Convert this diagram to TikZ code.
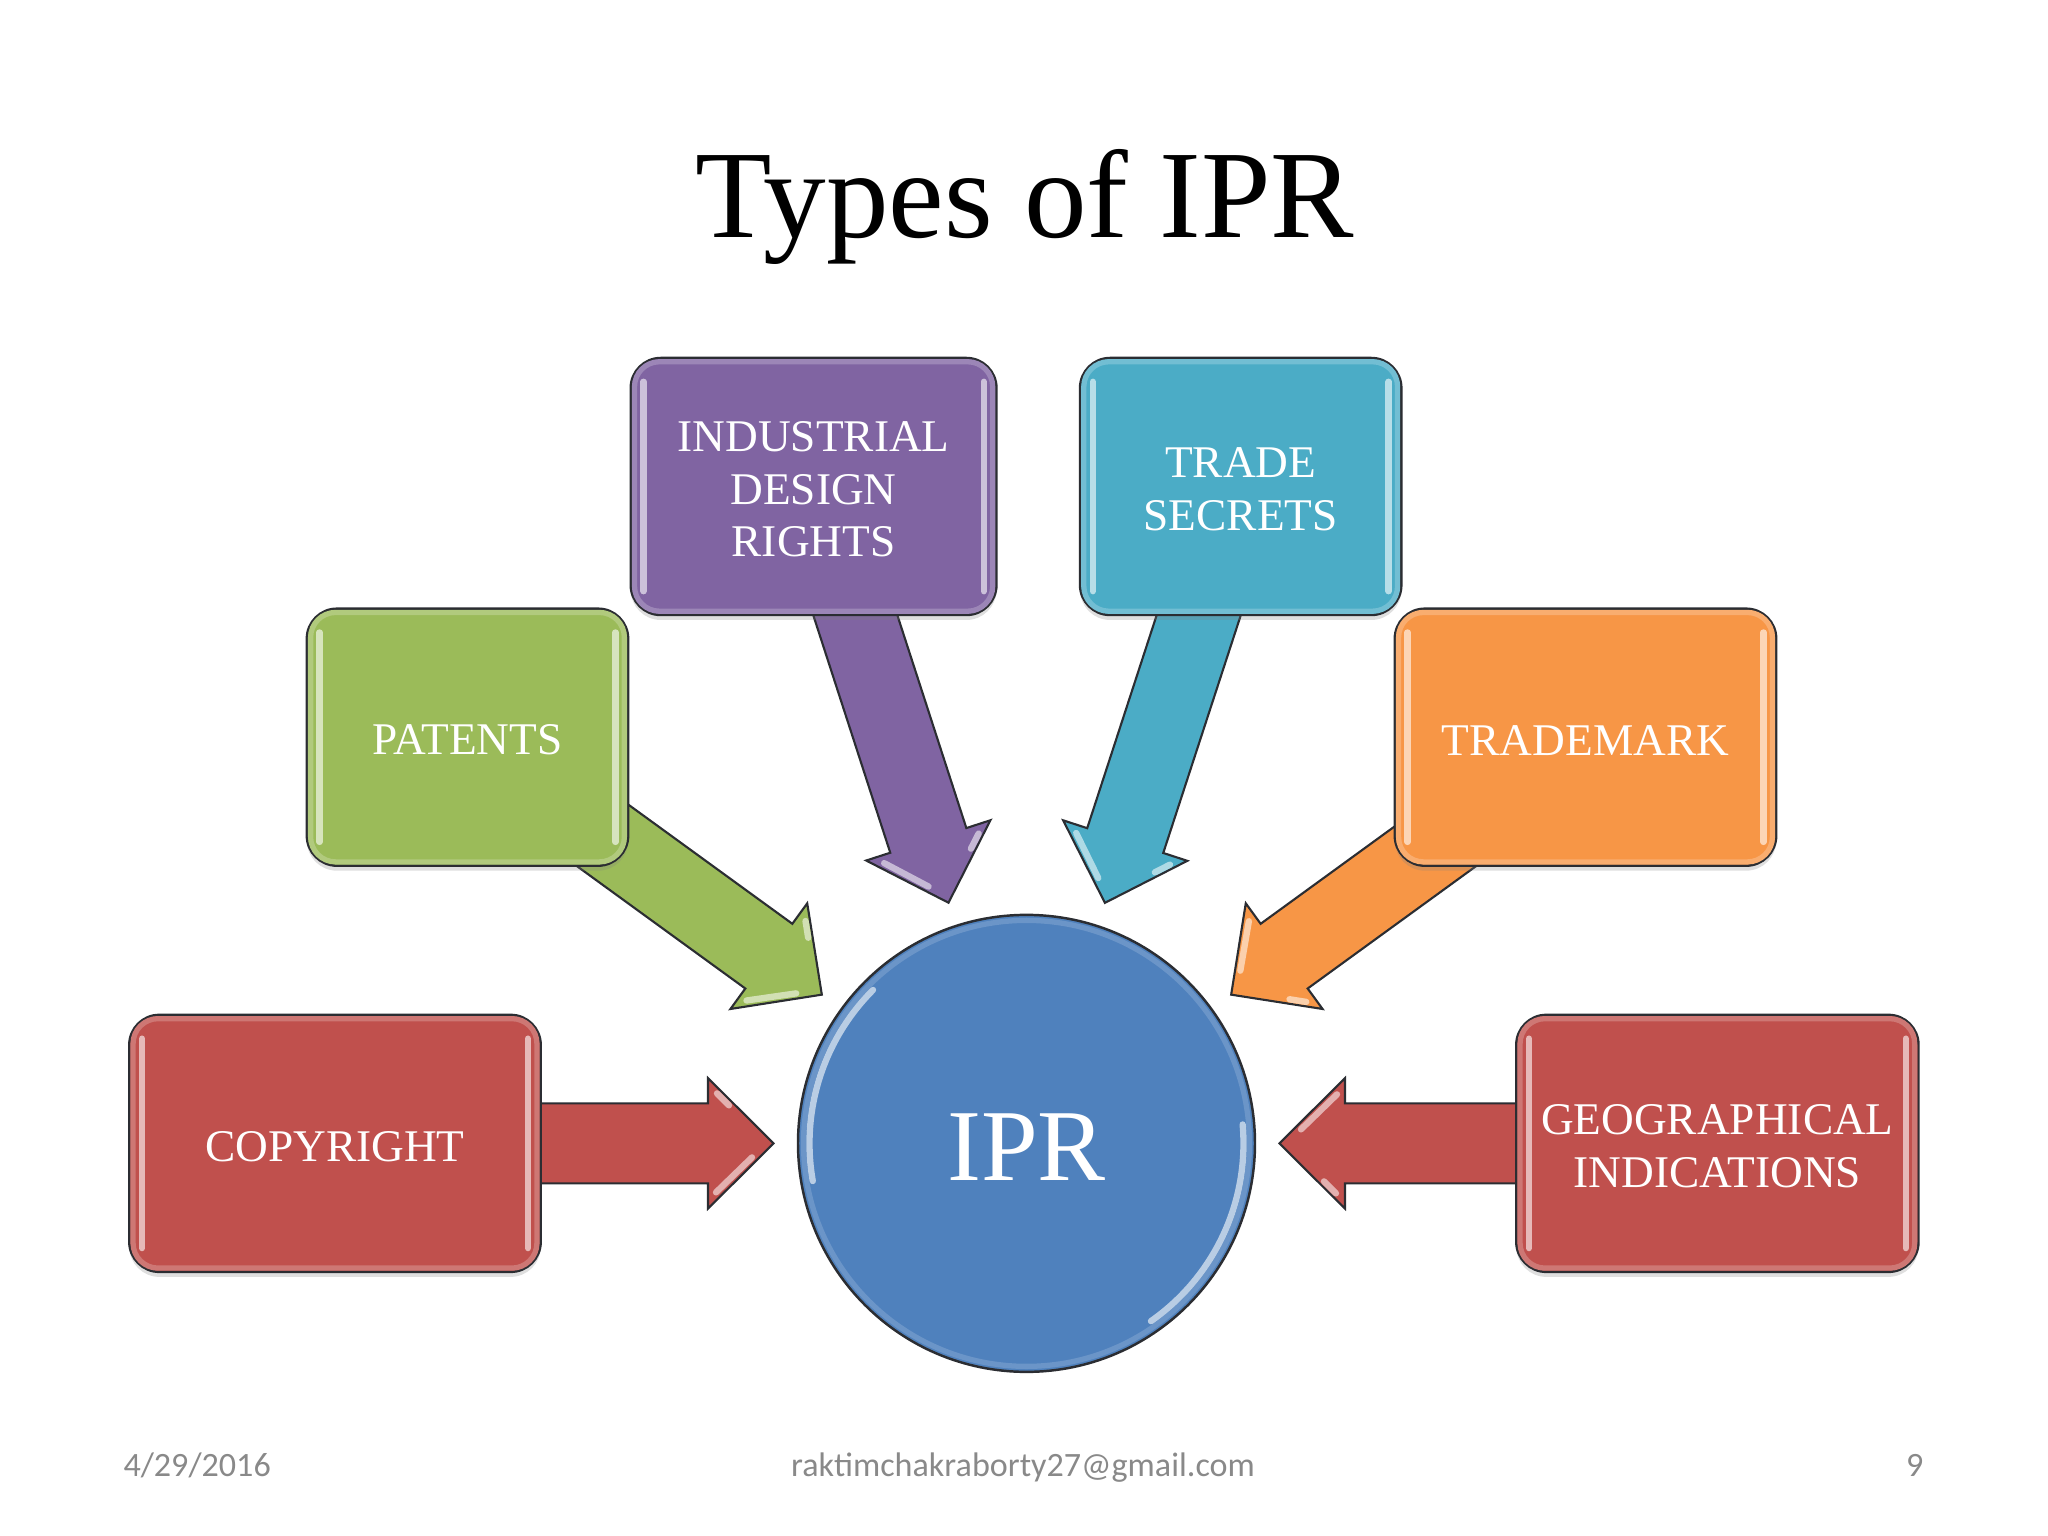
\documentclass[tikz,border=0pt]{standalone}
\usepackage{fontspec}
\setmainfont{Liberation Serif}
\newfontfamily\footfont{Carlito}
\usetikzlibrary{calc,backgrounds,shadows}

\definecolor{iprred}{HTML}{C0504D}
\definecolor{iprgreen}{HTML}{9BBB59}
\definecolor{iprpurple}{HTML}{8064A2}
\definecolor{iprteal}{HTML}{4BACC6}
\definecolor{iprorange}{HTML}{F79646}
\definecolor{iprblue}{HTML}{4F81BD}
\definecolor{iprfoot}{HTML}{898989}
\definecolor{iproutline}{HTML}{2B2D32}

\tikzset{
	iprbox/.style={draw=iproutline, line width=0.7pt, rounded corners=0.3cm, text=white, align=center, inner sep=0pt, minimum height=2.57cm, font=\fontsize{12.9}{15}\selectfont, execute at begin node={\rule{0pt}{#1}}, drop shadow={shadow xshift=0cm, shadow yshift=-0.05cm, opacity=0.25}},
	iprbox/.default=10.2pt,
	iprhub/.style={circle, draw=iproutline, line width=0.7pt, text=white, inner sep=0pt, minimum size=4.57cm, text height=21.4pt, text depth=0pt, font=\fontsize{29}{33}\selectfont},
	arrowedge/.style={draw=iproutline, line width=0.6pt, line join=miter},
	shine/.style={line width=1.8pt, line cap=round},
	footer/.style={text=iprfoot, font=\footfont\fontsize{9.7}{11}\selectfont, inner sep=0pt}
}

% block arrow from a box towards the hub
\newcommand{\blockarrow}[2]{
	\coordinate (#1tip) at ($(ipr)!2.53cm!(#1)$);
	\coordinate (#1neck) at ($(ipr)!3.185cm!(#1)$);
	\coordinate (#1shinea) at ($(ipr)!3.105cm!(#1)$);
	\coordinate (#1shineb) at ($(ipr)!2.745cm!(#1)$);
	\coordinate (#1shinec) at ($(ipr)!3.095cm!(#1)$);
	\coordinate (#1shined) at ($(ipr)!2.975cm!(#1)$);
	\begin{scope}[on background layer]
		\draw[arrowedge, fill=#2] ($(#1)!0.4cm!90:(#1tip)$) -- ($(#1neck)!0.4cm!90:(#1tip)$) -- ($(#1neck)!0.653cm!90:(#1tip)$) -- (#1tip) -- ($(#1neck)!0.653cm!-90:(#1tip)$) -- ($(#1neck)!0.4cm!-90:(#1tip)$) -- ($(#1)!0.4cm!-90:(#1tip)$) -- cycle;
		\draw[shine, white!55!#2] ($(#1shinea)!0.49cm!-90:(#1tip)$) -- ($(#1shineb)!0.14cm!-90:(#1tip)$);
		\draw[shine, white!55!#2] ($(#1shinec)!0.5cm!90:(#1tip)$) -- ($(#1shined)!0.38cm!90:(#1tip)$);
	\end{scope}
}

% bevel lines inside a box
\newcommand{\boxshine}[2]{
	\draw[line width=1.5pt, rounded corners=0.25cm, white!22!#2] ($(#1.north west)+(0.05,-0.05)$) rectangle ($(#1.south east)+(-0.05,0.05)$);
	\draw[shine, white!60!#2] ($(#1.north west)+(0.14,-0.25)$) -- ($(#1.south west)+(0.14,0.25)$);
	\draw[shine, white!60!#2] ($(#1.north east)+(-0.14,-0.25)$) -- ($(#1.south east)+(-0.14,0.25)$);
}

\begin{document}
\begin{tikzpicture}
	\useasboundingbox (0, 0) rectangle (20.48, 15.36);
	\node[anchor=base, font=\fontsize{35.6}{40}\selectfont, inner sep=0pt] (title) at (10.25, 12.98) {Types of IPR};
	\node[iprhub, fill=iprblue] (ipr) at (10.265, 3.926) {IPR};
	\node[iprbox, fill=iprred, minimum width=4.114cm] (copyright) at (3.35, 3.926) {COPYRIGHT};
	\node[iprbox, fill=iprgreen, minimum width=3.213cm] (patents) at (4.675, 7.988) {PATENTS};
	\node[iprbox=40.2pt, fill=iprpurple, minimum width=3.657cm] (industrial) at (8.136, 10.495) {INDUSTRIAL\\DESIGN\\RIGHTS};
	\node[iprbox=25.2pt, fill=iprteal, minimum width=3.213cm] (trade) at (12.407, 10.495) {TRADE\\SECRETS};
	\node[iprbox, fill=iprorange, minimum width=3.814cm] (trademark) at (15.855, 7.988) {TRADEMARK};
	\node[iprbox=25.2pt, fill=iprred, minimum width=4.022cm] (geo) at (17.174, 3.926) {GEOGRAPHICAL\\INDICATIONS};
	\blockarrow{copyright}{iprred}
	\blockarrow{patents}{iprgreen}
	\blockarrow{industrial}{iprpurple}
	\blockarrow{trade}{iprteal}
	\blockarrow{trademark}{iprorange}
	\blockarrow{geo}{iprred}
	\boxshine{copyright}{iprred}
	\boxshine{patents}{iprgreen}
	\boxshine{industrial}{iprpurple}
	\boxshine{trade}{iprteal}
	\boxshine{trademark}{iprorange}
	\boxshine{geo}{iprred}
	\draw[line width=1.5pt, white!16!iprblue] (ipr.center) ++(0:2.23) arc[start angle=0, end angle=360, radius=2.23];
	\draw[shine, white!60!iprblue] ([shift={(135:2.17)}]ipr.center) arc[start angle=135, end angle=190, radius=2.17];
	\draw[shine, white!60!iprblue] ([shift={(-55:2.17)}]ipr.center) arc[start angle=-55, end angle=5, radius=2.17];
	\node[footer, anchor=base west] (date) at (1.228, 0.59) {4/29/2016};
	\node[footer, anchor=base] (mail) at (10.23, 0.59) {raktimchakraborty27@gmail.com};
	\node[footer, anchor=base east] (page) at (19.24, 0.59) {9};
\end{tikzpicture}
\end{document}
